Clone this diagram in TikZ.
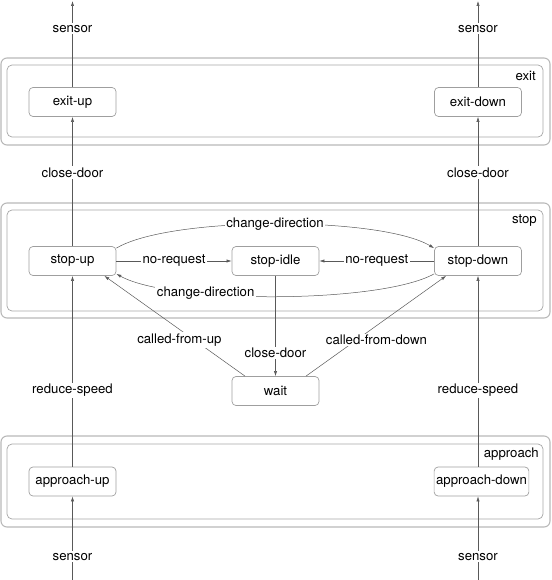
\documentclass[tikz,border=0pt]{standalone}
\usepackage{fontspec}
\setmainfont{TeX Gyre Heros}
\usetikzlibrary{arrows.meta}
\begin{document}
\begin{tikzpicture}[x=1pt,y=-1pt,
  txt/.style={font=\fontsize{13.2}{15}\selectfont},
  state/.style={txt, draw=gray!75, line width=0.7pt, rounded corners=4pt, minimum width=87pt, minimum height=29pt, inner sep=2pt},
  outerbox/.style={draw=gray!55, line width=1.1pt, rounded corners=6pt},
  innerbox/.style={draw=gray!70, line width=0.7pt, rounded corners=5pt},
  conn/.style={draw=black!65, line width=0.5pt, -{Latex[length=5pt,width=3.2pt]}},
  lab/.style={txt, fill=white, inner sep=1.5pt},
  boxlab/.style={txt, anchor=east, inner sep=0pt}]
\useasboundingbox (0,0) rectangle (551,580);
% containers
\draw[outerbox] (1,58) rectangle (550,145);
\draw[innerbox] (7,65) rectangle (543,137);
\node[boxlab] (lexit) at (536,76) {exit};
\draw[outerbox] (1,203) rectangle (550,318);
\draw[innerbox] (7,210) rectangle (543,311);
\node[boxlab] (lstop) at (537,221) {stop};
\draw[outerbox] (1,436) rectangle (550,527);
\draw[innerbox] (7,444) rectangle (543,519);
\node[boxlab] (lappr) at (539,454) {approach};
% states
\node[state] (eu) at (72.5,102) {exit-up};
\node[state] (ed) at (478,102) {exit-down};
\node[state] (su) at (72.5,261) {stop-up};
\node[state] (si) at (275.5,261) {stop-idle};
\node[state] (sd) at (478,261) {stop-down};
\node[state] (w) at (275.5,391) {wait};
\node[state] (au) at (72.5,481.5) {approach-up};
\node[state, minimum width=92pt] (ad) at (481.5,481.5) {approach-down};
% free ends
\coordinate (t1) at (72.5,1);
\coordinate (t2) at (478,1);
\coordinate (b1) at (72.5,580);
\coordinate (b2) at (478,580);
% vertical flows
\draw[conn] (eu.north) -- (t1) node[lab,pos=0.68] {sensor};
\draw[conn] (ed.north) -- (t2) node[lab,pos=0.68] {sensor};
\draw[conn] (su.north) -- (eu.south) node[lab,pos=0.57] {close-door};
\draw[conn] (sd.north) -- (ed.south) node[lab,pos=0.57] {close-door};
\draw[conn] (au.north) -- (su.south) node[lab,pos=0.4] {reduce-speed};
\draw[conn] (sd.south |- ad.north) -- (sd.south) node[lab,pos=0.4] {reduce-speed};
\draw[conn] (b1) -- (au.south) node[lab,pos=0.28] {sensor};
\draw[conn] (b2) -- (sd.south |- ad.south) node[lab,pos=0.28] {sensor};
% stop internals
\draw[conn] (su.east) -- (si.west) node[lab,pos=0.5] {no-request};
\draw[conn] (sd.west) -- (si.east) node[lab,pos=0.5] {no-request};
\draw[conn] ([yshift=-2pt]su.north east) .. controls (170,216) and (380,216) .. ([yshift=-2pt]sd.north west) node[lab,pos=0.5] {change-direction};
\draw[conn] ([yshift=2pt]sd.south west) .. controls (380,304) and (170,304) .. ([yshift=2pt]su.south east) node[lab,pos=0.68] {change-direction};
% wait
\draw[conn] (si.south) -- (w.north) node[lab,pos=0.77] {close-door};
\draw[conn] (w.154) -- (su.-25) node[lab,pos=0.36,xshift=-15pt] {called-from-up};
\draw[conn] (w.26) -- (sd.205) node[lab,pos=0.36,xshift=20pt] {called-from-down};
\end{tikzpicture}
\end{document}
